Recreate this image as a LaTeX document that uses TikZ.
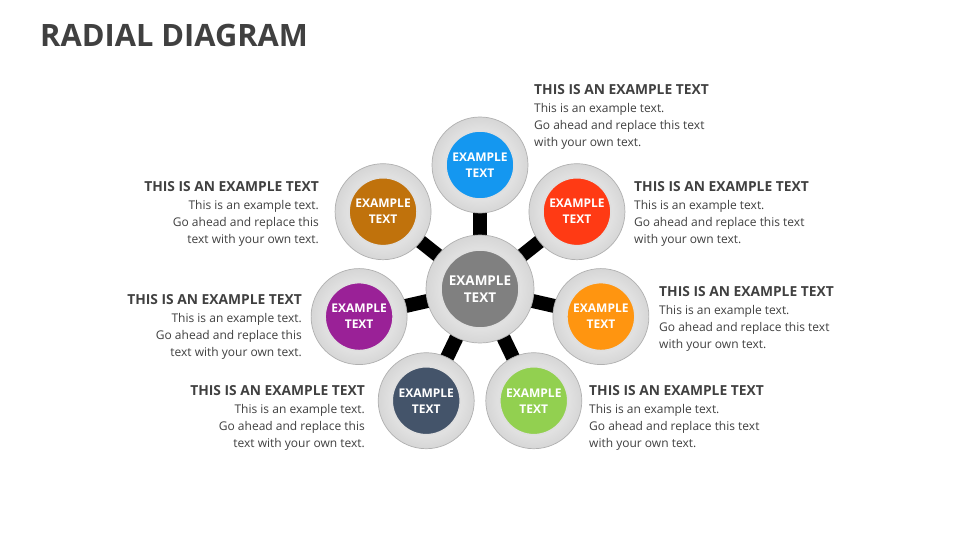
\documentclass[tikz,border=0pt]{standalone}
\usepackage{fontspec}
\setmainfont{Open Sans}
\usetikzlibrary{backgrounds}
\definecolor{txt}{HTML}{404040}
\definecolor{cblue}{HTML}{1497F0}
\definecolor{cred}{HTML}{FF3A14}
\definecolor{corange}{HTML}{FF9510}
\definecolor{cgreen}{HTML}{92D050}
\definecolor{cslate}{HTML}{44546A}
\definecolor{cpurple}{HTML}{9A2197}
\definecolor{cbrown}{HTML}{C0720C}
\definecolor{cgray}{HTML}{808080}
\definecolor{ringedge}{HTML}{B0B0B0}
\definecolor{ringout}{HTML}{D6D6D6}
\tikzset{
  ring/.style={circle, inner sep=0pt, draw=ringedge, line width=0.7pt,
    shade, inner color=white, outer color=ringout},
  disc/.style={circle, inner sep=0pt, draw=gray!25, line width=1.6pt,
    text=white, align=center, font=\fontsize{12}{16}\selectfont\bfseries},
  spoke/.style={line width=14pt, black},
  head/.style={inner sep=0pt, text=txt, font=\fontsize{13.8}{16}\selectfont\bfseries},
  body/.style={inner sep=0pt, text=txt, font=\fontsize{12}{16}\selectfont},
}
\newcommand\tblock[7]{%
  \node[head, anchor=base #4] (#1h) at (#2,#3) {THIS IS AN EXAMPLE TEXT};
  \node[body, anchor=base #4] (#1a) at (#2,#3+18) {#5};
  \node[body, anchor=base #4] (#1b) at (#2,#3+35) {#6};
  \node[body, anchor=base #4] (#1c) at (#2,#3+52) {#7};}
\begin{document}
\begin{tikzpicture}[x=1pt,y=-1pt]
\useasboundingbox (0,0) rectangle (960,540);
\node[anchor=base west, inner sep=0pt, text=txt, font=\fontsize{30.8}{36}\selectfont\bfseries] (title) at (40,47) {RADIAL DIAGRAM};

% center
\node[ring, minimum size=108pt] (c) at (480,289) {};
\node[disc, fill=cgray, minimum size=78pt, font=\fontsize{13.5}{17}\selectfont\bfseries] (ci) at (c) {EXAMPLE\\TEXT};

% satellites
\foreach \n/\k/\col in {s1/0/cblue, s2/1/cred, s3/2/corange, s4/3/cgreen, s5/4/cslate, s6/5/cpurple, s7/6/cbrown}{
  \pgfmathsetmacro\ang{90-\k*360/7}
  \node[ring, minimum size=96pt] (\n) at ({480+124*cos(\ang)},{289-124*sin(\ang)}) {};
  \node[disc, fill=\col, minimum size=68pt] (\n i) at (\n) {EXAMPLE\\TEXT};
}

\begin{pgfonlayer}{background}
\fill[white] (0,0) rectangle (960,540);
\foreach \n in {s1,s2,s3,s4,s5,s6,s7}{
  \draw[spoke] (c.center) -- (\n.center);
}
\end{pgfonlayer}

\tblock{t1}{534}{95}{west}{This is an example text.}{Go ahead and replace this text}{with your own text.}
\tblock{t2}{634}{191}{west}{This is an example text.}{Go ahead and replace this text}{with your own text.}
\tblock{t3}{659}{296}{west}{This is an example text.}{Go ahead and replace this text}{with your own text.}
\tblock{t4}{589}{395}{west}{This is an example text.}{Go ahead and replace this text}{with your own text.}
\tblock{t5}{365}{395}{east}{This is an example text.}{Go ahead and replace this}{text with your own text.}
\tblock{t6}{302}{304}{east}{This is an example text.}{Go ahead and replace this}{text with your own text.}
\tblock{t7}{319}{191}{east}{This is an example text.}{Go ahead and replace this}{text with your own text.}
\end{tikzpicture}
\end{document}
